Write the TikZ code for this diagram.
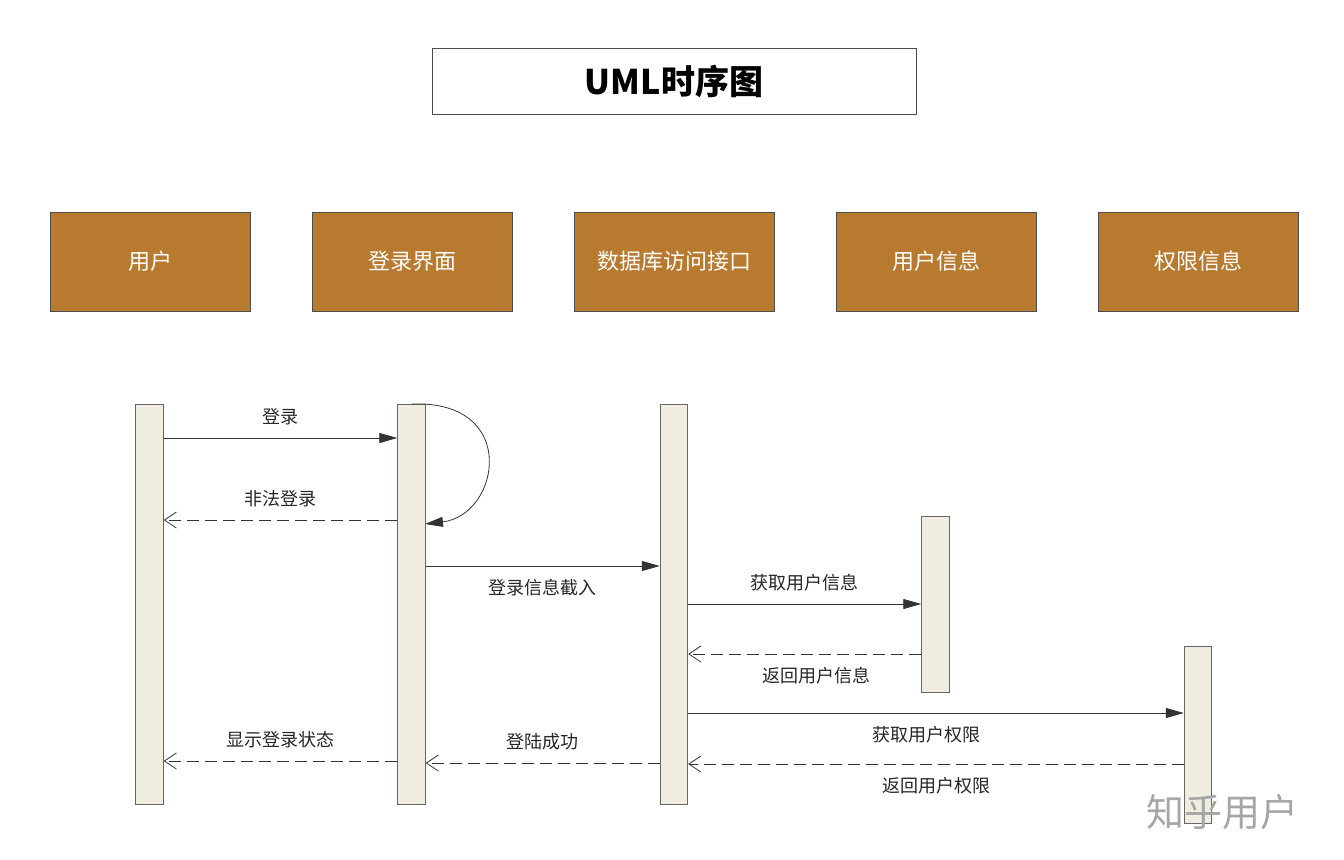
\documentclass[tikz,border=0pt]{standalone}
\usepackage{fontspec}
\setmainfont{Noto Sans CJK SC}
\usetikzlibrary{arrows.meta}
\definecolor{brown1}{HTML}{B87A2E}
\definecolor{bar}{HTML}{F0EDE0}
\begin{document}
\begin{tikzpicture}[x=0.5pt,y=-0.5pt,
 hdr/.style={draw=black!70,fill=brown1,text=white,font=\fontsize{11}{13}\selectfont,minimum width=100pt,minimum height=49.5pt,inner sep=0},
 bar/.style={draw=black!60,fill=bar,minimum width=13.8pt,inner sep=0},
 lbl/.style={font=\fontsize{9}{11}\selectfont,text=black!85},
 msg/.style={draw=black!80,-{Triangle[length=9pt,width=5pt]}},
 ret/.style={draw=black!80,dashed,dash pattern=on 6pt off 3pt,-{Straight Barb[length=6pt,width=8pt]}}]
\useasboundingbox (0,0) rectangle (1344,859);
\node[draw=black!70,minimum width=242pt,minimum height=33pt,font=\fontsize{17}{20}\selectfont\bfseries] (title) at (674,81) {UML时序图};
\node[hdr] (h1) at (150,261.5) {用户};
\node[hdr] (h2) at (412,261.5) {登录界面};
\node[hdr] (h3) at (674,261.5) {数据库访问接口};
\node[hdr] (h4) at (936,261.5) {用户信息};
\node[hdr] (h5) at (1198,261.5) {权限信息};
\node[bar,minimum height=200pt] (b1) at (149.5,604) {};
\node[bar,minimum height=200pt] (b2) at (411.5,604) {};
\node[bar,minimum height=200pt] (b3) at (674,604) {};
\node[bar,minimum height=88pt] (b4) at (935.5,604) {};
\node[bar,minimum height=88.5pt] (b5) at (1198,734.5) {};
\coordinate (s1) at (412,404);
\coordinate (s2) at (425,524);
\draw[msg] (s1) .. controls (520,400) and (500,515) .. (s2);
\draw[msg] (b1.east |- 0,438) -- (b2.west |- 0,438) node[lbl,midway,above=3pt] {登录};
\draw[ret] (b2.west |- 0,520) -- (b1.east |- 0,520) node[lbl,midway,above=3pt] {非法登录};
\draw[msg] (b2.east |- 0,566) -- (b3.west |- 0,566) node[lbl,midway,below=3pt] {登录信息截入};
\draw[msg] (b3.east |- 0,604) -- (b4.west |- 0,604) node[lbl,midway,above=3pt] {获取用户信息};
\draw[ret] (b4.west |- 0,654) -- (b3.east |- 0,654) node[lbl,pos=0.45,below=3pt] {返回用户信息};
\draw[msg] (b3.east |- 0,713) -- (b5.west |- 0,713) node[lbl,pos=0.48,below=3pt] {获取用户权限};
\draw[ret] (b5.west |- 0,764) -- (b3.east |- 0,764) node[lbl,pos=0.5,below=3pt] {返回用户权限};
\draw[ret] (b3.west |- 0,763) -- (b2.east |- 0,763) node[lbl,pos=0.5,above=3pt] {登陆成功};
\draw[ret] (b2.west |- 0,761) -- (b1.east |- 0,761) node[lbl,pos=0.5,above=3pt] {显示登录状态};
\node[font=\fontsize{19}{22}\selectfont,text=black!35] (wm) at (1222,812) {知乎用户};
\end{tikzpicture}
\end{document}
